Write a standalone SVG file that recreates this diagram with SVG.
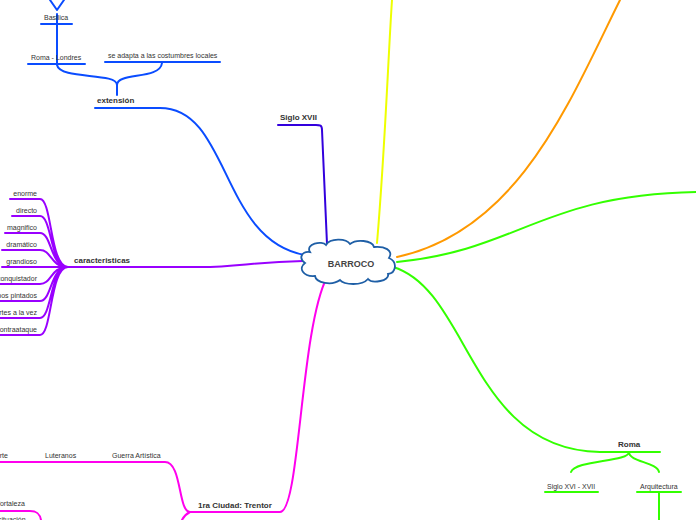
<svg xmlns="http://www.w3.org/2000/svg" width="696" height="520" viewBox="0 0 696 520">
<style>
text{font-family:"Liberation Sans",Arial,sans-serif;fill:#333}
.s{font-size:7px}
.b{font-size:8px;font-weight:bold}
.l{fill:none;stroke-width:2;stroke-linecap:round}
.bl{stroke:#0a4cff}.pu{stroke:#9900ff}.mg{stroke:#ff00ee}.gr{stroke:#33ff00}.ye{stroke:#eeff00}.or{stroke:#ff9900}.in{stroke:#3300dd}
</style>
<rect width="696" height="520" fill="#fff"/>
<g id="connectors">
<path class="l ye" d="M377 243 C385 150 388 60 392 0"/>
<path class="l or" d="M397 257 C520 230 570 100 620 0"/>
<path class="l gr" d="M397 262 C520 250 540 195 696 192"/>
<path class="l gr" d="M393 267 C470 290 470 450 600 452 L660 452"/>
<path class="l gr" d="M629 452 C629 462 575 460 571 472 M629 452 C629 462 657 462 659 472"/>
<path class="l gr" d="M545 492 L598 492 M637 492 L681 492 M659 492 L659 520"/>
<path class="l in" d="M327 244 L322 130 C322 125 320 125 316 125 L278 125"/>
<path class="l bl" d="M305 255 C220 240 230 108 160 108 L95 108"/>
<path class="l bl" d="M117 95 L117 85 C117 72 60 80 57 65 M117 85 C117 72 160 80 162 63"/>
<path class="l bl" d="M28 64 L85 64 M105 62 L220 62 M57 64 L57 25 M41 24 L72 24 M57 24 L57 14 M57 10 L50 0 M57 10 L64 0"/>
<path class="l pu" d="M303 261 C250 262 240 267 200 267 L68 267"/>
<path class="l pu" d="M68 267 C50 267 52 199 40 199 L10 199 M68 267 C50 267 52 216 40 216 L12 216 M68 267 C50 267 52 233 40 233 L5 233 M68 267 C50 267 52 250 40 250 L2 250 M68 267 C50 267 52 267 40 267 L2 267 M68 267 C50 267 52 284 40 284 L0 284 M68 267 C50 267 52 301 40 301 L0 301 M68 267 C50 267 52 318 40 318 L0 318 M68 267 C50 267 52 335 40 335 L0 335"/>
<path class="l mg" d="M327 277 C300 330 300 512 280 512 L190 512 C178 512 182 462 165 462 L0 462"/>
<path class="l mg" d="M190 512 C186 514 184 516 182 520"/>
<path class="l mg" d="M0 511 L30 511 C38 511 40 515 41 520"/>
</g>
<g id="barroco">
<path d="M310 252 C305 244 322 240 326 245 C330 238 346 238 350 244 C356 239 372 240 374 247 C384 246 394 250 389 258 C398 262 396 273 388 274 C390 281 372 284 368 279 C362 286 344 285 340 280 C332 286 316 283 315 276 C303 277 298 268 305 263 C298 258 302 251 310 252 Z" fill="#fff" stroke="#1f5fa6" stroke-width="1.8"/>
<text x="351" y="267" text-anchor="middle" style="font-size:9px;font-weight:bold;fill:#444">BARROCO</text>
</g>
<g id="siglo-xvii"><text class="b" x="280" y="120">Siglo XVII</text></g>
<g id="extension"><text class="b" x="97" y="103">extensión</text></g>
<g id="roma-londres"><text class="s" x="31" y="60">Roma - Londres</text></g>
<g id="costumbres"><text class="s" x="108" y="58">se adapta a las costumbres locales</text></g>
<g id="basilica"><text class="s" x="44" y="20">Basilica</text></g>
<g id="caracteristicas"><text class="b" x="74" y="263">caracteristicas</text>
<text class="s" x="37" y="196" text-anchor="end">enorme</text>
<text class="s" x="37" y="213" text-anchor="end">directo</text>
<text class="s" x="37" y="230" text-anchor="end">magnifico</text>
<text class="s" x="37" y="247" text-anchor="end">dramático</text>
<text class="s" x="37" y="264" text-anchor="end">grandioso</text>
<text class="s" x="37" y="281" text-anchor="end">conquistador</text>
<text class="s" x="37" y="298" text-anchor="end">cuerpos pintados</text>
<text class="s" x="37" y="315" text-anchor="end">todas las artes a la vez</text>
<text class="s" x="37" y="332" text-anchor="end">contraataque</text>
</g>
<g id="trentor"><text class="b" x="198" y="508">1ra Ciudad: Trentor</text>
<text class="s" x="-5" y="458">Arte</text>
<text class="s" x="45" y="458">Luteranos</text>
<text class="s" x="112" y="458">Guerra Artística</text>
<text class="s" x="-2" y="506">fortaleza</text>
<text class="s" x="-2" y="522">situación</text>
</g>
<g id="roma"><text class="b" x="618" y="447">Roma</text>
<text class="s" x="547" y="489">Siglo XVI - XVII</text>
<text class="s" x="640" y="489">Arquitectura</text>
</g>
</svg>
